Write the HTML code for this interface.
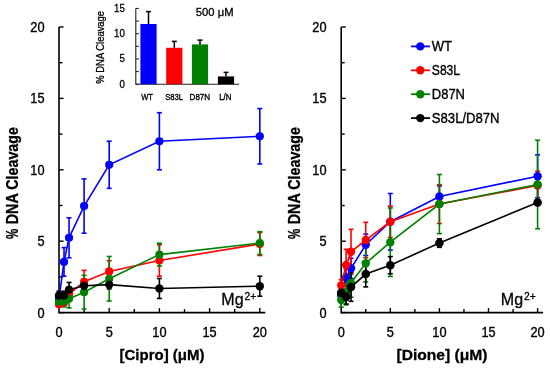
<!DOCTYPE html><html><head><meta charset="utf-8"><style>html,body{margin:0;padding:0;background:#fff;width:550px;height:368px;overflow:hidden}svg{display:block;will-change:transform}</style></head><body><svg width="550" height="368" viewBox="0 0 550 368" font-family='"Liberation Sans", sans-serif'>
<rect width="550" height="368" fill="#fff"/>
<path d="M59.0 27.000000000000057 V312.6 H265.29999999999995" fill="none" stroke="#000" stroke-width="1.6"/>
<line x1="59.0" y1="312.60" x2="63.6" y2="312.60" stroke="#000" stroke-width="1.4"/>
<line x1="59.0" y1="276.90" x2="62.5" y2="276.90" stroke="#000" stroke-width="1.4"/>
<line x1="59.0" y1="241.20" x2="63.6" y2="241.20" stroke="#000" stroke-width="1.4"/>
<line x1="59.0" y1="205.50" x2="62.5" y2="205.50" stroke="#000" stroke-width="1.4"/>
<line x1="59.0" y1="169.80" x2="63.6" y2="169.80" stroke="#000" stroke-width="1.4"/>
<line x1="59.0" y1="134.10" x2="62.5" y2="134.10" stroke="#000" stroke-width="1.4"/>
<line x1="59.0" y1="98.40" x2="63.6" y2="98.40" stroke="#000" stroke-width="1.4"/>
<line x1="59.0" y1="62.70" x2="62.5" y2="62.70" stroke="#000" stroke-width="1.4"/>
<line x1="59.0" y1="27.00" x2="63.6" y2="27.00" stroke="#000" stroke-width="1.4"/>
<line x1="84.10" y1="312.6" x2="84.10" y2="309.1" stroke="#000" stroke-width="1.4"/>
<line x1="109.20" y1="312.6" x2="109.20" y2="308.1" stroke="#000" stroke-width="1.4"/>
<line x1="134.30" y1="312.6" x2="134.30" y2="309.1" stroke="#000" stroke-width="1.4"/>
<line x1="159.40" y1="312.6" x2="159.40" y2="308.1" stroke="#000" stroke-width="1.4"/>
<line x1="184.50" y1="312.6" x2="184.50" y2="309.1" stroke="#000" stroke-width="1.4"/>
<line x1="209.60" y1="312.6" x2="209.60" y2="308.1" stroke="#000" stroke-width="1.4"/>
<line x1="234.70" y1="312.6" x2="234.70" y2="309.1" stroke="#000" stroke-width="1.4"/>
<line x1="259.80" y1="312.6" x2="259.80" y2="308.1" stroke="#000" stroke-width="1.4"/>
<text x="44.5" y="317.5" font-size="13.8" text-anchor="end" font-weight="normal" fill="#000" stroke="#000" stroke-width="0.35" textLength="7.1" lengthAdjust="spacingAndGlyphs" >0</text>
<text x="44.5" y="246.10000000000005" font-size="13.8" text-anchor="end" font-weight="normal" fill="#000" stroke="#000" stroke-width="0.35" textLength="7.1" lengthAdjust="spacingAndGlyphs" >5</text>
<text x="44.5" y="174.70000000000005" font-size="13.8" text-anchor="end" font-weight="normal" fill="#000" stroke="#000" stroke-width="0.35" textLength="14.2" lengthAdjust="spacingAndGlyphs" >10</text>
<text x="44.5" y="103.30000000000004" font-size="13.8" text-anchor="end" font-weight="normal" fill="#000" stroke="#000" stroke-width="0.35" textLength="14.2" lengthAdjust="spacingAndGlyphs" >15</text>
<text x="44.5" y="31.900000000000055" font-size="13.8" text-anchor="end" font-weight="normal" fill="#000" stroke="#000" stroke-width="0.35" textLength="14.2" lengthAdjust="spacingAndGlyphs" >20</text>
<text x="59.0" y="337.2" font-size="13.8" text-anchor="middle" font-weight="normal" fill="#000" stroke="#000" stroke-width="0.35" textLength="7.1" lengthAdjust="spacingAndGlyphs" >0</text>
<text x="109.19999999999999" y="337.2" font-size="13.8" text-anchor="middle" font-weight="normal" fill="#000" stroke="#000" stroke-width="0.35" textLength="7.1" lengthAdjust="spacingAndGlyphs" >5</text>
<text x="159.39999999999998" y="337.2" font-size="13.8" text-anchor="middle" font-weight="normal" fill="#000" stroke="#000" stroke-width="0.35" textLength="14.2" lengthAdjust="spacingAndGlyphs" >10</text>
<text x="209.6" y="337.2" font-size="13.8" text-anchor="middle" font-weight="normal" fill="#000" stroke="#000" stroke-width="0.35" textLength="14.2" lengthAdjust="spacingAndGlyphs" >15</text>
<text x="259.79999999999995" y="337.2" font-size="13.8" text-anchor="middle" font-weight="normal" fill="#000" stroke="#000" stroke-width="0.35" textLength="14.2" lengthAdjust="spacingAndGlyphs" >20</text>
<line x1="59.00" y1="294.04" x2="59.00" y2="302.60" stroke="#0000ff" stroke-width="1.6"/>
<line x1="56.50" y1="294.04" x2="61.50" y2="294.04" stroke="#0000ff" stroke-width="1.6"/>
<line x1="56.50" y1="302.60" x2="61.50" y2="302.60" stroke="#0000ff" stroke-width="1.6"/>
<line x1="64.02" y1="247.63" x2="64.02" y2="276.19" stroke="#0000ff" stroke-width="1.6"/>
<line x1="61.52" y1="247.63" x2="66.52" y2="247.63" stroke="#0000ff" stroke-width="1.6"/>
<line x1="61.52" y1="276.19" x2="66.52" y2="276.19" stroke="#0000ff" stroke-width="1.6"/>
<line x1="69.04" y1="217.78" x2="69.04" y2="257.76" stroke="#0000ff" stroke-width="1.6"/>
<line x1="66.54" y1="217.78" x2="71.54" y2="217.78" stroke="#0000ff" stroke-width="1.6"/>
<line x1="66.54" y1="257.76" x2="71.54" y2="257.76" stroke="#0000ff" stroke-width="1.6"/>
<line x1="84.10" y1="178.94" x2="84.10" y2="233.20" stroke="#0000ff" stroke-width="1.6"/>
<line x1="81.60" y1="178.94" x2="86.60" y2="178.94" stroke="#0000ff" stroke-width="1.6"/>
<line x1="81.60" y1="233.20" x2="86.60" y2="233.20" stroke="#0000ff" stroke-width="1.6"/>
<line x1="109.20" y1="141.24" x2="109.20" y2="188.36" stroke="#0000ff" stroke-width="1.6"/>
<line x1="106.70" y1="141.24" x2="111.70" y2="141.24" stroke="#0000ff" stroke-width="1.6"/>
<line x1="106.70" y1="188.36" x2="111.70" y2="188.36" stroke="#0000ff" stroke-width="1.6"/>
<line x1="159.40" y1="112.68" x2="159.40" y2="169.80" stroke="#0000ff" stroke-width="1.6"/>
<line x1="156.90" y1="112.68" x2="161.90" y2="112.68" stroke="#0000ff" stroke-width="1.6"/>
<line x1="156.90" y1="169.80" x2="161.90" y2="169.80" stroke="#0000ff" stroke-width="1.6"/>
<line x1="259.80" y1="108.54" x2="259.80" y2="163.95" stroke="#0000ff" stroke-width="1.6"/>
<line x1="257.30" y1="108.54" x2="262.30" y2="108.54" stroke="#0000ff" stroke-width="1.6"/>
<line x1="257.30" y1="163.95" x2="262.30" y2="163.95" stroke="#0000ff" stroke-width="1.6"/>
<line x1="59.00" y1="301.46" x2="59.00" y2="307.17" stroke="#ff0000" stroke-width="1.6"/>
<line x1="56.50" y1="301.46" x2="61.50" y2="301.46" stroke="#ff0000" stroke-width="1.6"/>
<line x1="56.50" y1="307.17" x2="61.50" y2="307.17" stroke="#ff0000" stroke-width="1.6"/>
<line x1="64.02" y1="299.75" x2="64.02" y2="305.46" stroke="#ff0000" stroke-width="1.6"/>
<line x1="61.52" y1="299.75" x2="66.52" y2="299.75" stroke="#ff0000" stroke-width="1.6"/>
<line x1="61.52" y1="305.46" x2="66.52" y2="305.46" stroke="#ff0000" stroke-width="1.6"/>
<line x1="69.04" y1="286.90" x2="69.04" y2="301.18" stroke="#ff0000" stroke-width="1.6"/>
<line x1="66.54" y1="286.90" x2="71.54" y2="286.90" stroke="#ff0000" stroke-width="1.6"/>
<line x1="66.54" y1="301.18" x2="71.54" y2="301.18" stroke="#ff0000" stroke-width="1.6"/>
<line x1="84.10" y1="270.33" x2="84.10" y2="293.18" stroke="#ff0000" stroke-width="1.6"/>
<line x1="81.60" y1="270.33" x2="86.60" y2="270.33" stroke="#ff0000" stroke-width="1.6"/>
<line x1="81.60" y1="293.18" x2="86.60" y2="293.18" stroke="#ff0000" stroke-width="1.6"/>
<line x1="109.20" y1="260.76" x2="109.20" y2="282.18" stroke="#ff0000" stroke-width="1.6"/>
<line x1="106.70" y1="260.76" x2="111.70" y2="260.76" stroke="#ff0000" stroke-width="1.6"/>
<line x1="106.70" y1="282.18" x2="111.70" y2="282.18" stroke="#ff0000" stroke-width="1.6"/>
<line x1="159.40" y1="244.77" x2="159.40" y2="276.19" stroke="#ff0000" stroke-width="1.6"/>
<line x1="156.90" y1="244.77" x2="161.90" y2="244.77" stroke="#ff0000" stroke-width="1.6"/>
<line x1="156.90" y1="276.19" x2="161.90" y2="276.19" stroke="#ff0000" stroke-width="1.6"/>
<line x1="259.80" y1="232.63" x2="259.80" y2="255.48" stroke="#ff0000" stroke-width="1.6"/>
<line x1="257.30" y1="232.63" x2="262.30" y2="232.63" stroke="#ff0000" stroke-width="1.6"/>
<line x1="257.30" y1="255.48" x2="262.30" y2="255.48" stroke="#ff0000" stroke-width="1.6"/>
<line x1="59.00" y1="297.46" x2="59.00" y2="306.03" stroke="#008000" stroke-width="1.6"/>
<line x1="56.50" y1="297.46" x2="61.50" y2="297.46" stroke="#008000" stroke-width="1.6"/>
<line x1="56.50" y1="306.03" x2="61.50" y2="306.03" stroke="#008000" stroke-width="1.6"/>
<line x1="64.02" y1="295.46" x2="64.02" y2="306.89" stroke="#008000" stroke-width="1.6"/>
<line x1="61.52" y1="295.46" x2="66.52" y2="295.46" stroke="#008000" stroke-width="1.6"/>
<line x1="61.52" y1="306.89" x2="66.52" y2="306.89" stroke="#008000" stroke-width="1.6"/>
<line x1="69.04" y1="289.61" x2="69.04" y2="307.89" stroke="#008000" stroke-width="1.6"/>
<line x1="66.54" y1="289.61" x2="71.54" y2="289.61" stroke="#008000" stroke-width="1.6"/>
<line x1="66.54" y1="307.89" x2="71.54" y2="307.89" stroke="#008000" stroke-width="1.6"/>
<line x1="84.10" y1="275.33" x2="84.10" y2="309.03" stroke="#008000" stroke-width="1.6"/>
<line x1="81.60" y1="275.33" x2="86.60" y2="275.33" stroke="#008000" stroke-width="1.6"/>
<line x1="81.60" y1="309.03" x2="86.60" y2="309.03" stroke="#008000" stroke-width="1.6"/>
<line x1="109.20" y1="256.48" x2="109.20" y2="301.03" stroke="#008000" stroke-width="1.6"/>
<line x1="106.70" y1="256.48" x2="111.70" y2="256.48" stroke="#008000" stroke-width="1.6"/>
<line x1="106.70" y1="301.03" x2="111.70" y2="301.03" stroke="#008000" stroke-width="1.6"/>
<line x1="159.40" y1="243.20" x2="159.40" y2="266.05" stroke="#008000" stroke-width="1.6"/>
<line x1="156.90" y1="243.20" x2="161.90" y2="243.20" stroke="#008000" stroke-width="1.6"/>
<line x1="156.90" y1="266.05" x2="161.90" y2="266.05" stroke="#008000" stroke-width="1.6"/>
<line x1="259.80" y1="231.63" x2="259.80" y2="254.48" stroke="#008000" stroke-width="1.6"/>
<line x1="257.30" y1="231.63" x2="262.30" y2="231.63" stroke="#008000" stroke-width="1.6"/>
<line x1="257.30" y1="254.48" x2="262.30" y2="254.48" stroke="#008000" stroke-width="1.6"/>
<line x1="59.00" y1="291.18" x2="59.00" y2="299.75" stroke="#000000" stroke-width="1.6"/>
<line x1="56.50" y1="291.18" x2="61.50" y2="291.18" stroke="#000000" stroke-width="1.6"/>
<line x1="56.50" y1="299.75" x2="61.50" y2="299.75" stroke="#000000" stroke-width="1.6"/>
<line x1="64.02" y1="291.18" x2="64.02" y2="299.75" stroke="#000000" stroke-width="1.6"/>
<line x1="61.52" y1="291.18" x2="66.52" y2="291.18" stroke="#000000" stroke-width="1.6"/>
<line x1="61.52" y1="299.75" x2="66.52" y2="299.75" stroke="#000000" stroke-width="1.6"/>
<line x1="69.04" y1="282.47" x2="69.04" y2="296.75" stroke="#000000" stroke-width="1.6"/>
<line x1="66.54" y1="282.47" x2="71.54" y2="282.47" stroke="#000000" stroke-width="1.6"/>
<line x1="66.54" y1="296.75" x2="71.54" y2="296.75" stroke="#000000" stroke-width="1.6"/>
<line x1="84.10" y1="279.33" x2="84.10" y2="292.18" stroke="#000000" stroke-width="1.6"/>
<line x1="81.60" y1="279.33" x2="86.60" y2="279.33" stroke="#000000" stroke-width="1.6"/>
<line x1="81.60" y1="292.18" x2="86.60" y2="292.18" stroke="#000000" stroke-width="1.6"/>
<line x1="109.20" y1="280.33" x2="109.20" y2="288.90" stroke="#000000" stroke-width="1.6"/>
<line x1="106.70" y1="280.33" x2="111.70" y2="280.33" stroke="#000000" stroke-width="1.6"/>
<line x1="106.70" y1="288.90" x2="111.70" y2="288.90" stroke="#000000" stroke-width="1.6"/>
<line x1="159.40" y1="278.47" x2="159.40" y2="298.46" stroke="#000000" stroke-width="1.6"/>
<line x1="156.90" y1="278.47" x2="161.90" y2="278.47" stroke="#000000" stroke-width="1.6"/>
<line x1="156.90" y1="298.46" x2="161.90" y2="298.46" stroke="#000000" stroke-width="1.6"/>
<line x1="259.80" y1="276.19" x2="259.80" y2="296.18" stroke="#000000" stroke-width="1.6"/>
<line x1="257.30" y1="276.19" x2="262.30" y2="276.19" stroke="#000000" stroke-width="1.6"/>
<line x1="257.30" y1="296.18" x2="262.30" y2="296.18" stroke="#000000" stroke-width="1.6"/>
<path d="M59.00 298.32 L64.02 261.91 L69.04 237.77 L84.10 206.07 L109.20 164.80 L159.40 141.24 L259.80 136.24" fill="none" stroke="#0000ff" stroke-width="1.6"/>
<circle cx="59.00" cy="298.32" r="4.1" fill="#0000ff"/>
<circle cx="64.02" cy="261.91" r="4.1" fill="#0000ff"/>
<circle cx="69.04" cy="237.77" r="4.1" fill="#0000ff"/>
<circle cx="84.10" cy="206.07" r="4.1" fill="#0000ff"/>
<circle cx="109.20" cy="164.80" r="4.1" fill="#0000ff"/>
<circle cx="159.40" cy="141.24" r="4.1" fill="#0000ff"/>
<circle cx="259.80" cy="136.24" r="4.1" fill="#0000ff"/>
<path d="M59.00 304.32 L64.02 302.60 L69.04 294.04 L84.10 281.76 L109.20 271.47 L159.40 260.48 L259.80 244.06" fill="none" stroke="#ff0000" stroke-width="1.6"/>
<circle cx="59.00" cy="304.32" r="4.1" fill="#ff0000"/>
<circle cx="64.02" cy="302.60" r="4.1" fill="#ff0000"/>
<circle cx="69.04" cy="294.04" r="4.1" fill="#ff0000"/>
<circle cx="84.10" cy="281.76" r="4.1" fill="#ff0000"/>
<circle cx="109.20" cy="271.47" r="4.1" fill="#ff0000"/>
<circle cx="159.40" cy="260.48" r="4.1" fill="#ff0000"/>
<circle cx="259.80" cy="244.06" r="4.1" fill="#ff0000"/>
<path d="M59.00 301.75 L64.02 301.18 L69.04 298.75 L84.10 292.18 L109.20 278.76 L159.40 254.62 L259.80 243.06" fill="none" stroke="#008000" stroke-width="1.6"/>
<circle cx="59.00" cy="301.75" r="4.1" fill="#008000"/>
<circle cx="64.02" cy="301.18" r="4.1" fill="#008000"/>
<circle cx="69.04" cy="298.75" r="4.1" fill="#008000"/>
<circle cx="84.10" cy="292.18" r="4.1" fill="#008000"/>
<circle cx="109.20" cy="278.76" r="4.1" fill="#008000"/>
<circle cx="159.40" cy="254.62" r="4.1" fill="#008000"/>
<circle cx="259.80" cy="243.06" r="4.1" fill="#008000"/>
<path d="M59.00 295.46 L64.02 295.46 L69.04 289.61 L84.10 285.75 L109.20 284.61 L159.40 288.47 L259.80 286.18" fill="none" stroke="#000000" stroke-width="1.6"/>
<circle cx="59.00" cy="295.46" r="4.2" fill="#000000"/>
<circle cx="64.02" cy="295.46" r="4.2" fill="#000000"/>
<circle cx="69.04" cy="289.61" r="4.2" fill="#000000"/>
<circle cx="84.10" cy="285.75" r="4.2" fill="#000000"/>
<circle cx="109.20" cy="284.61" r="4.2" fill="#000000"/>
<circle cx="159.40" cy="288.47" r="4.2" fill="#000000"/>
<circle cx="259.80" cy="286.18" r="4.2" fill="#000000"/>
<text x="162" y="360.0" font-size="15.4" text-anchor="middle" font-weight="bold" fill="#000" stroke="#000" stroke-width="0.3" textLength="85" lengthAdjust="spacingAndGlyphs" >[Cipro] (μM)</text>
<text x="17.6" y="239.0" font-size="16.5" text-anchor="start" font-weight="bold" fill="#000" stroke="#000" stroke-width="0.3" textLength="10.2" lengthAdjust="spacingAndGlyphs" transform="rotate(-90 17.6 239.0)" >%</text>
<text x="17.6" y="224.2" font-size="16.5" text-anchor="start" font-weight="bold" fill="#000" stroke="#000" stroke-width="0.3" textLength="97.2" lengthAdjust="spacingAndGlyphs" transform="rotate(-90 17.6 224.2)" >DNA Cleavage</text>
<text x="221.3" y="304.5" font-size="16.5" fill="#000" stroke="#000" stroke-width="0.3" textLength="22.3" lengthAdjust="spacingAndGlyphs">Mg</text>
<text x="244.5" y="299.6" font-size="10" fill="#000" stroke="#000" stroke-width="0.3" textLength="11.8" lengthAdjust="spacingAndGlyphs">2+</text>
<path d="M341.2 27.000000000000057 V312.6 H543.1" fill="none" stroke="#000" stroke-width="1.6"/>
<line x1="341.2" y1="312.60" x2="345.8" y2="312.60" stroke="#000" stroke-width="1.4"/>
<line x1="341.2" y1="276.90" x2="344.7" y2="276.90" stroke="#000" stroke-width="1.4"/>
<line x1="341.2" y1="241.20" x2="345.8" y2="241.20" stroke="#000" stroke-width="1.4"/>
<line x1="341.2" y1="205.50" x2="344.7" y2="205.50" stroke="#000" stroke-width="1.4"/>
<line x1="341.2" y1="169.80" x2="345.8" y2="169.80" stroke="#000" stroke-width="1.4"/>
<line x1="341.2" y1="134.10" x2="344.7" y2="134.10" stroke="#000" stroke-width="1.4"/>
<line x1="341.2" y1="98.40" x2="345.8" y2="98.40" stroke="#000" stroke-width="1.4"/>
<line x1="341.2" y1="62.70" x2="344.7" y2="62.70" stroke="#000" stroke-width="1.4"/>
<line x1="341.2" y1="27.00" x2="345.8" y2="27.00" stroke="#000" stroke-width="1.4"/>
<line x1="365.75" y1="312.6" x2="365.75" y2="309.1" stroke="#000" stroke-width="1.4"/>
<line x1="390.30" y1="312.6" x2="390.30" y2="308.1" stroke="#000" stroke-width="1.4"/>
<line x1="414.85" y1="312.6" x2="414.85" y2="309.1" stroke="#000" stroke-width="1.4"/>
<line x1="439.40" y1="312.6" x2="439.40" y2="308.1" stroke="#000" stroke-width="1.4"/>
<line x1="463.95" y1="312.6" x2="463.95" y2="309.1" stroke="#000" stroke-width="1.4"/>
<line x1="488.50" y1="312.6" x2="488.50" y2="308.1" stroke="#000" stroke-width="1.4"/>
<line x1="513.05" y1="312.6" x2="513.05" y2="309.1" stroke="#000" stroke-width="1.4"/>
<line x1="537.60" y1="312.6" x2="537.60" y2="308.1" stroke="#000" stroke-width="1.4"/>
<text x="326.5" y="317.5" font-size="13.8" text-anchor="end" font-weight="normal" fill="#000" stroke="#000" stroke-width="0.35" textLength="7.1" lengthAdjust="spacingAndGlyphs" >0</text>
<text x="326.5" y="246.10000000000005" font-size="13.8" text-anchor="end" font-weight="normal" fill="#000" stroke="#000" stroke-width="0.35" textLength="7.1" lengthAdjust="spacingAndGlyphs" >5</text>
<text x="326.5" y="174.70000000000005" font-size="13.8" text-anchor="end" font-weight="normal" fill="#000" stroke="#000" stroke-width="0.35" textLength="14.2" lengthAdjust="spacingAndGlyphs" >10</text>
<text x="326.5" y="103.30000000000004" font-size="13.8" text-anchor="end" font-weight="normal" fill="#000" stroke="#000" stroke-width="0.35" textLength="14.2" lengthAdjust="spacingAndGlyphs" >15</text>
<text x="326.5" y="31.900000000000055" font-size="13.8" text-anchor="end" font-weight="normal" fill="#000" stroke="#000" stroke-width="0.35" textLength="14.2" lengthAdjust="spacingAndGlyphs" >20</text>
<text x="341.2" y="337.2" font-size="13.8" text-anchor="middle" font-weight="normal" fill="#000" stroke="#000" stroke-width="0.35" textLength="7.1" lengthAdjust="spacingAndGlyphs" >0</text>
<text x="390.3" y="337.2" font-size="13.8" text-anchor="middle" font-weight="normal" fill="#000" stroke="#000" stroke-width="0.35" textLength="7.1" lengthAdjust="spacingAndGlyphs" >5</text>
<text x="439.4" y="337.2" font-size="13.8" text-anchor="middle" font-weight="normal" fill="#000" stroke="#000" stroke-width="0.35" textLength="14.2" lengthAdjust="spacingAndGlyphs" >10</text>
<text x="488.5" y="337.2" font-size="13.8" text-anchor="middle" font-weight="normal" fill="#000" stroke="#000" stroke-width="0.35" textLength="14.2" lengthAdjust="spacingAndGlyphs" >15</text>
<text x="537.6" y="337.2" font-size="13.8" text-anchor="middle" font-weight="normal" fill="#000" stroke="#000" stroke-width="0.35" textLength="14.2" lengthAdjust="spacingAndGlyphs" >20</text>
<line x1="341.20" y1="291.18" x2="341.20" y2="299.75" stroke="#0000ff" stroke-width="1.6"/>
<line x1="338.70" y1="291.18" x2="343.70" y2="291.18" stroke="#0000ff" stroke-width="1.6"/>
<line x1="338.70" y1="299.75" x2="343.70" y2="299.75" stroke="#0000ff" stroke-width="1.6"/>
<line x1="346.11" y1="268.76" x2="346.11" y2="285.90" stroke="#0000ff" stroke-width="1.6"/>
<line x1="343.61" y1="268.76" x2="348.61" y2="268.76" stroke="#0000ff" stroke-width="1.6"/>
<line x1="343.61" y1="285.90" x2="348.61" y2="285.90" stroke="#0000ff" stroke-width="1.6"/>
<line x1="351.02" y1="258.34" x2="351.02" y2="278.33" stroke="#0000ff" stroke-width="1.6"/>
<line x1="348.52" y1="258.34" x2="353.52" y2="258.34" stroke="#0000ff" stroke-width="1.6"/>
<line x1="348.52" y1="278.33" x2="353.52" y2="278.33" stroke="#0000ff" stroke-width="1.6"/>
<line x1="365.75" y1="234.06" x2="365.75" y2="255.48" stroke="#0000ff" stroke-width="1.6"/>
<line x1="363.25" y1="234.06" x2="368.25" y2="234.06" stroke="#0000ff" stroke-width="1.6"/>
<line x1="363.25" y1="255.48" x2="368.25" y2="255.48" stroke="#0000ff" stroke-width="1.6"/>
<line x1="390.30" y1="193.50" x2="390.30" y2="250.05" stroke="#0000ff" stroke-width="1.6"/>
<line x1="387.80" y1="193.50" x2="392.80" y2="193.50" stroke="#0000ff" stroke-width="1.6"/>
<line x1="387.80" y1="250.05" x2="392.80" y2="250.05" stroke="#0000ff" stroke-width="1.6"/>
<line x1="439.40" y1="185.94" x2="439.40" y2="207.07" stroke="#0000ff" stroke-width="1.6"/>
<line x1="436.90" y1="185.94" x2="441.90" y2="185.94" stroke="#0000ff" stroke-width="1.6"/>
<line x1="436.90" y1="207.07" x2="441.90" y2="207.07" stroke="#0000ff" stroke-width="1.6"/>
<line x1="537.60" y1="154.81" x2="537.60" y2="197.65" stroke="#0000ff" stroke-width="1.6"/>
<line x1="535.10" y1="154.81" x2="540.10" y2="154.81" stroke="#0000ff" stroke-width="1.6"/>
<line x1="535.10" y1="197.65" x2="540.10" y2="197.65" stroke="#0000ff" stroke-width="1.6"/>
<line x1="341.20" y1="279.76" x2="341.20" y2="291.18" stroke="#ff0000" stroke-width="1.6"/>
<line x1="338.70" y1="279.76" x2="343.70" y2="279.76" stroke="#ff0000" stroke-width="1.6"/>
<line x1="338.70" y1="291.18" x2="343.70" y2="291.18" stroke="#ff0000" stroke-width="1.6"/>
<line x1="346.11" y1="249.34" x2="346.11" y2="280.76" stroke="#ff0000" stroke-width="1.6"/>
<line x1="343.61" y1="249.34" x2="348.61" y2="249.34" stroke="#ff0000" stroke-width="1.6"/>
<line x1="343.61" y1="280.76" x2="348.61" y2="280.76" stroke="#ff0000" stroke-width="1.6"/>
<line x1="351.02" y1="229.35" x2="351.02" y2="274.19" stroke="#ff0000" stroke-width="1.6"/>
<line x1="348.52" y1="229.35" x2="353.52" y2="229.35" stroke="#ff0000" stroke-width="1.6"/>
<line x1="348.52" y1="274.19" x2="353.52" y2="274.19" stroke="#ff0000" stroke-width="1.6"/>
<line x1="365.75" y1="222.35" x2="365.75" y2="257.76" stroke="#ff0000" stroke-width="1.6"/>
<line x1="363.25" y1="222.35" x2="368.25" y2="222.35" stroke="#ff0000" stroke-width="1.6"/>
<line x1="363.25" y1="257.76" x2="368.25" y2="257.76" stroke="#ff0000" stroke-width="1.6"/>
<line x1="390.30" y1="206.07" x2="390.30" y2="237.49" stroke="#ff0000" stroke-width="1.6"/>
<line x1="387.80" y1="206.07" x2="392.80" y2="206.07" stroke="#ff0000" stroke-width="1.6"/>
<line x1="387.80" y1="237.49" x2="392.80" y2="237.49" stroke="#ff0000" stroke-width="1.6"/>
<line x1="439.40" y1="184.65" x2="439.40" y2="223.49" stroke="#ff0000" stroke-width="1.6"/>
<line x1="436.90" y1="184.65" x2="441.90" y2="184.65" stroke="#ff0000" stroke-width="1.6"/>
<line x1="436.90" y1="223.49" x2="441.90" y2="223.49" stroke="#ff0000" stroke-width="1.6"/>
<line x1="537.60" y1="171.23" x2="537.60" y2="199.79" stroke="#ff0000" stroke-width="1.6"/>
<line x1="535.10" y1="171.23" x2="540.10" y2="171.23" stroke="#ff0000" stroke-width="1.6"/>
<line x1="535.10" y1="199.79" x2="540.10" y2="199.79" stroke="#ff0000" stroke-width="1.6"/>
<line x1="341.20" y1="292.89" x2="341.20" y2="307.17" stroke="#008000" stroke-width="1.6"/>
<line x1="338.70" y1="292.89" x2="343.70" y2="292.89" stroke="#008000" stroke-width="1.6"/>
<line x1="338.70" y1="307.17" x2="343.70" y2="307.17" stroke="#008000" stroke-width="1.6"/>
<line x1="346.11" y1="279.18" x2="346.11" y2="304.89" stroke="#008000" stroke-width="1.6"/>
<line x1="343.61" y1="279.18" x2="348.61" y2="279.18" stroke="#008000" stroke-width="1.6"/>
<line x1="343.61" y1="304.89" x2="348.61" y2="304.89" stroke="#008000" stroke-width="1.6"/>
<line x1="351.02" y1="268.62" x2="351.02" y2="297.18" stroke="#008000" stroke-width="1.6"/>
<line x1="348.52" y1="268.62" x2="353.52" y2="268.62" stroke="#008000" stroke-width="1.6"/>
<line x1="348.52" y1="297.18" x2="353.52" y2="297.18" stroke="#008000" stroke-width="1.6"/>
<line x1="365.75" y1="244.77" x2="365.75" y2="281.90" stroke="#008000" stroke-width="1.6"/>
<line x1="363.25" y1="244.77" x2="368.25" y2="244.77" stroke="#008000" stroke-width="1.6"/>
<line x1="363.25" y1="281.90" x2="368.25" y2="281.90" stroke="#008000" stroke-width="1.6"/>
<line x1="390.30" y1="207.93" x2="390.30" y2="276.47" stroke="#008000" stroke-width="1.6"/>
<line x1="387.80" y1="207.93" x2="392.80" y2="207.93" stroke="#008000" stroke-width="1.6"/>
<line x1="387.80" y1="276.47" x2="392.80" y2="276.47" stroke="#008000" stroke-width="1.6"/>
<line x1="439.40" y1="174.51" x2="439.40" y2="233.63" stroke="#008000" stroke-width="1.6"/>
<line x1="436.90" y1="174.51" x2="441.90" y2="174.51" stroke="#008000" stroke-width="1.6"/>
<line x1="436.90" y1="233.63" x2="441.90" y2="233.63" stroke="#008000" stroke-width="1.6"/>
<line x1="537.60" y1="140.24" x2="537.60" y2="228.78" stroke="#008000" stroke-width="1.6"/>
<line x1="535.10" y1="140.24" x2="540.10" y2="140.24" stroke="#008000" stroke-width="1.6"/>
<line x1="535.10" y1="228.78" x2="540.10" y2="228.78" stroke="#008000" stroke-width="1.6"/>
<line x1="341.20" y1="287.04" x2="341.20" y2="298.46" stroke="#000000" stroke-width="1.6"/>
<line x1="338.70" y1="287.04" x2="343.70" y2="287.04" stroke="#000000" stroke-width="1.6"/>
<line x1="338.70" y1="298.46" x2="343.70" y2="298.46" stroke="#000000" stroke-width="1.6"/>
<line x1="346.11" y1="289.75" x2="346.11" y2="304.03" stroke="#000000" stroke-width="1.6"/>
<line x1="343.61" y1="289.75" x2="348.61" y2="289.75" stroke="#000000" stroke-width="1.6"/>
<line x1="343.61" y1="304.03" x2="348.61" y2="304.03" stroke="#000000" stroke-width="1.6"/>
<line x1="351.02" y1="272.76" x2="351.02" y2="301.32" stroke="#000000" stroke-width="1.6"/>
<line x1="348.52" y1="272.76" x2="353.52" y2="272.76" stroke="#000000" stroke-width="1.6"/>
<line x1="348.52" y1="301.32" x2="353.52" y2="301.32" stroke="#000000" stroke-width="1.6"/>
<line x1="365.75" y1="261.19" x2="365.75" y2="286.90" stroke="#000000" stroke-width="1.6"/>
<line x1="363.25" y1="261.19" x2="368.25" y2="261.19" stroke="#000000" stroke-width="1.6"/>
<line x1="363.25" y1="286.90" x2="368.25" y2="286.90" stroke="#000000" stroke-width="1.6"/>
<line x1="390.30" y1="256.62" x2="390.30" y2="273.76" stroke="#000000" stroke-width="1.6"/>
<line x1="387.80" y1="256.62" x2="392.80" y2="256.62" stroke="#000000" stroke-width="1.6"/>
<line x1="387.80" y1="273.76" x2="392.80" y2="273.76" stroke="#000000" stroke-width="1.6"/>
<line x1="439.40" y1="238.77" x2="439.40" y2="247.34" stroke="#000000" stroke-width="1.6"/>
<line x1="436.90" y1="238.77" x2="441.90" y2="238.77" stroke="#000000" stroke-width="1.6"/>
<line x1="436.90" y1="247.34" x2="441.90" y2="247.34" stroke="#000000" stroke-width="1.6"/>
<line x1="537.60" y1="199.65" x2="537.60" y2="205.36" stroke="#000000" stroke-width="1.6"/>
<line x1="535.10" y1="199.65" x2="540.10" y2="199.65" stroke="#000000" stroke-width="1.6"/>
<line x1="535.10" y1="205.36" x2="540.10" y2="205.36" stroke="#000000" stroke-width="1.6"/>
<path d="M341.20 295.46 L346.11 277.33 L351.02 268.33 L365.75 244.77 L390.30 221.78 L439.40 196.50 L537.60 176.23" fill="none" stroke="#0000ff" stroke-width="1.6"/>
<circle cx="341.20" cy="295.46" r="4.2" fill="#0000ff"/>
<circle cx="346.11" cy="277.33" r="4.2" fill="#0000ff"/>
<circle cx="351.02" cy="268.33" r="4.2" fill="#0000ff"/>
<circle cx="365.75" cy="244.77" r="4.2" fill="#0000ff"/>
<circle cx="390.30" cy="221.78" r="4.2" fill="#0000ff"/>
<circle cx="439.40" cy="196.50" r="4.2" fill="#0000ff"/>
<circle cx="537.60" cy="176.23" r="4.2" fill="#0000ff"/>
<path d="M341.20 285.47 L346.11 265.05 L351.02 251.77 L365.75 240.06 L390.30 221.78 L439.40 204.07 L537.60 185.51" fill="none" stroke="#ff0000" stroke-width="1.6"/>
<circle cx="341.20" cy="285.47" r="4.2" fill="#ff0000"/>
<circle cx="346.11" cy="265.05" r="4.2" fill="#ff0000"/>
<circle cx="351.02" cy="251.77" r="4.2" fill="#ff0000"/>
<circle cx="365.75" cy="240.06" r="4.2" fill="#ff0000"/>
<circle cx="390.30" cy="221.78" r="4.2" fill="#ff0000"/>
<circle cx="439.40" cy="204.07" r="4.2" fill="#ff0000"/>
<circle cx="537.60" cy="185.51" r="4.2" fill="#ff0000"/>
<path d="M341.20 300.03 L346.11 292.04 L351.02 282.90 L365.75 263.33 L390.30 242.20 L439.40 204.07 L537.60 184.51" fill="none" stroke="#008000" stroke-width="1.6"/>
<circle cx="341.20" cy="300.03" r="4.2" fill="#008000"/>
<circle cx="346.11" cy="292.04" r="4.2" fill="#008000"/>
<circle cx="351.02" cy="282.90" r="4.2" fill="#008000"/>
<circle cx="365.75" cy="263.33" r="4.2" fill="#008000"/>
<circle cx="390.30" cy="242.20" r="4.2" fill="#008000"/>
<circle cx="439.40" cy="204.07" r="4.2" fill="#008000"/>
<circle cx="537.60" cy="184.51" r="4.2" fill="#008000"/>
<path d="M341.20 292.75 L346.11 296.89 L351.02 287.04 L365.75 274.04 L390.30 265.19 L439.40 243.06 L537.60 202.50" fill="none" stroke="#000000" stroke-width="1.6"/>
<circle cx="341.20" cy="292.75" r="4.3" fill="#000000"/>
<circle cx="346.11" cy="296.89" r="4.3" fill="#000000"/>
<circle cx="351.02" cy="287.04" r="4.3" fill="#000000"/>
<circle cx="365.75" cy="274.04" r="4.3" fill="#000000"/>
<circle cx="390.30" cy="265.19" r="4.3" fill="#000000"/>
<circle cx="439.40" cy="243.06" r="4.3" fill="#000000"/>
<circle cx="537.60" cy="202.50" r="4.3" fill="#000000"/>
<text x="442" y="360.0" font-size="15.4" text-anchor="middle" font-weight="bold" fill="#000" stroke="#000" stroke-width="0.3" textLength="91" lengthAdjust="spacingAndGlyphs" >[Dione] (μM)</text>
<text x="299.8" y="239.0" font-size="16.5" text-anchor="start" font-weight="bold" fill="#000" stroke="#000" stroke-width="0.3" textLength="10.2" lengthAdjust="spacingAndGlyphs" transform="rotate(-90 299.8 239.0)" >%</text>
<text x="299.8" y="224.2" font-size="16.5" text-anchor="start" font-weight="bold" fill="#000" stroke="#000" stroke-width="0.3" textLength="97.2" lengthAdjust="spacingAndGlyphs" transform="rotate(-90 299.8 224.2)" >DNA Cleavage</text>
<text x="500.8" y="304.5" font-size="16.5" fill="#000" stroke="#000" stroke-width="0.3" textLength="22.3" lengthAdjust="spacingAndGlyphs">Mg</text>
<text x="524.0" y="299.6" font-size="10" fill="#000" stroke="#000" stroke-width="0.3" textLength="11.8" lengthAdjust="spacingAndGlyphs">2+</text>
<line x1="411" y1="46.4" x2="430" y2="46.4" stroke="#0000ff" stroke-width="1.8"/>
<circle cx="420.3" cy="46.4" r="4.2" fill="#0000ff"/>
<text x="431.8" y="51.1" font-size="14.5" text-anchor="start" font-weight="normal" fill="#000" stroke="#000" stroke-width="0.35" textLength="20.2" lengthAdjust="spacingAndGlyphs" >WT</text>
<line x1="411" y1="70.3" x2="430" y2="70.3" stroke="#ff0000" stroke-width="1.8"/>
<circle cx="420.3" cy="70.3" r="4.2" fill="#ff0000"/>
<text x="431.8" y="75.0" font-size="14.5" text-anchor="start" font-weight="normal" fill="#000" stroke="#000" stroke-width="0.35" textLength="28.3" lengthAdjust="spacingAndGlyphs" >S83L</text>
<line x1="411" y1="94.19999999999999" x2="430" y2="94.19999999999999" stroke="#008000" stroke-width="1.8"/>
<circle cx="420.3" cy="94.19999999999999" r="4.2" fill="#008000"/>
<text x="431.8" y="98.89999999999999" font-size="14.5" text-anchor="start" font-weight="normal" fill="#000" stroke="#000" stroke-width="0.35" textLength="33.2" lengthAdjust="spacingAndGlyphs" >D87N</text>
<line x1="411" y1="118.1" x2="430" y2="118.1" stroke="#000000" stroke-width="1.8"/>
<circle cx="420.3" cy="118.1" r="4.2" fill="#000000"/>
<text x="431.8" y="122.8" font-size="14.5" text-anchor="start" font-weight="normal" fill="#000" stroke="#000" stroke-width="0.35" textLength="67.8" lengthAdjust="spacingAndGlyphs" >S83L/D87N</text>
<path d="M135.8 8.450000000000003 V84.2 H239" fill="none" stroke="#222" stroke-width="1.1"/>
<line x1="135.8" y1="84.20" x2="138.8" y2="84.20" stroke="#222" stroke-width="1.1"/>
<line x1="135.8" y1="71.58" x2="138.8" y2="71.58" stroke="#222" stroke-width="1.1"/>
<line x1="135.8" y1="58.95" x2="138.8" y2="58.95" stroke="#222" stroke-width="1.1"/>
<line x1="135.8" y1="46.33" x2="138.8" y2="46.33" stroke="#222" stroke-width="1.1"/>
<line x1="135.8" y1="33.70" x2="138.8" y2="33.70" stroke="#222" stroke-width="1.1"/>
<line x1="135.8" y1="21.08" x2="138.8" y2="21.08" stroke="#222" stroke-width="1.1"/>
<line x1="135.8" y1="8.45" x2="138.8" y2="8.45" stroke="#222" stroke-width="1.1"/>
<text x="124.9" y="87.60000000000001" font-size="10.6" text-anchor="end" font-weight="normal" fill="#000" stroke="#000" stroke-width="0.3" textLength="5.4" lengthAdjust="spacingAndGlyphs" >0</text>
<text x="124.9" y="62.35" font-size="10.6" text-anchor="end" font-weight="normal" fill="#000" stroke="#000" stroke-width="0.3" textLength="5.4" lengthAdjust="spacingAndGlyphs" >5</text>
<text x="124.9" y="37.1" font-size="10.6" text-anchor="end" font-weight="normal" fill="#000" stroke="#000" stroke-width="0.3" textLength="10.8" lengthAdjust="spacingAndGlyphs" >10</text>
<text x="124.9" y="11.850000000000003" font-size="10.6" text-anchor="end" font-weight="normal" fill="#000" stroke="#000" stroke-width="0.3" textLength="10.8" lengthAdjust="spacingAndGlyphs" >15</text>
<rect x="140.40" y="24.00" width="16.2" height="60.20" fill="#0000ff"/>
<line x1="148.5" y1="11.58" x2="148.5" y2="24.00" stroke="#000" stroke-width="1.5"/>
<line x1="146.0" y1="11.58" x2="151.0" y2="11.58" stroke="#000" stroke-width="1.5"/>
<text x="147.1" y="99.6" font-size="8.8" text-anchor="middle" font-weight="normal" fill="#000" stroke="#000" stroke-width="0.35" textLength="11.8" lengthAdjust="spacingAndGlyphs" >WT</text>
<rect x="166.20" y="47.79" width="16.2" height="36.41" fill="#ff0000"/>
<line x1="174.3" y1="41.38" x2="174.3" y2="47.79" stroke="#000" stroke-width="1.5"/>
<line x1="171.8" y1="41.38" x2="176.8" y2="41.38" stroke="#000" stroke-width="1.5"/>
<text x="174.15" y="99.6" font-size="8.8" text-anchor="middle" font-weight="normal" fill="#000" stroke="#000" stroke-width="0.35" textLength="17.7" lengthAdjust="spacingAndGlyphs" >S83L</text>
<rect x="191.90" y="44.41" width="16.2" height="39.79" fill="#008000"/>
<line x1="200" y1="40.11" x2="200" y2="44.41" stroke="#000" stroke-width="1.5"/>
<line x1="197.5" y1="40.11" x2="202.5" y2="40.11" stroke="#000" stroke-width="1.5"/>
<text x="199.85" y="99.6" font-size="8.8" text-anchor="middle" font-weight="normal" fill="#000" stroke="#000" stroke-width="0.35" textLength="20.5" lengthAdjust="spacingAndGlyphs" >D87N</text>
<rect x="217.90" y="76.42" width="16.2" height="7.78" fill="#000000"/>
<line x1="226" y1="72.38" x2="226" y2="76.42" stroke="#000" stroke-width="1.5"/>
<line x1="223.5" y1="72.38" x2="228.5" y2="72.38" stroke="#000" stroke-width="1.5"/>
<text x="225.35" y="99.6" font-size="8.8" text-anchor="middle" font-weight="normal" fill="#000" stroke="#000" stroke-width="0.35" textLength="12.3" lengthAdjust="spacingAndGlyphs" >L/N</text>
<text x="103.9" y="47.3" font-size="10" text-anchor="middle" font-weight="normal" fill="#000" stroke="#000" stroke-width="0.3" textLength="72.7" lengthAdjust="spacingAndGlyphs" transform="rotate(-90 103.9 47.3)" >% DNA Cleavage</text>
<text x="195.8" y="15.8" font-size="11" text-anchor="start" font-weight="normal" fill="#000" stroke="#000" stroke-width="0.3" textLength="37.7" lengthAdjust="spacingAndGlyphs" >500 μM</text>
</svg></body></html>
